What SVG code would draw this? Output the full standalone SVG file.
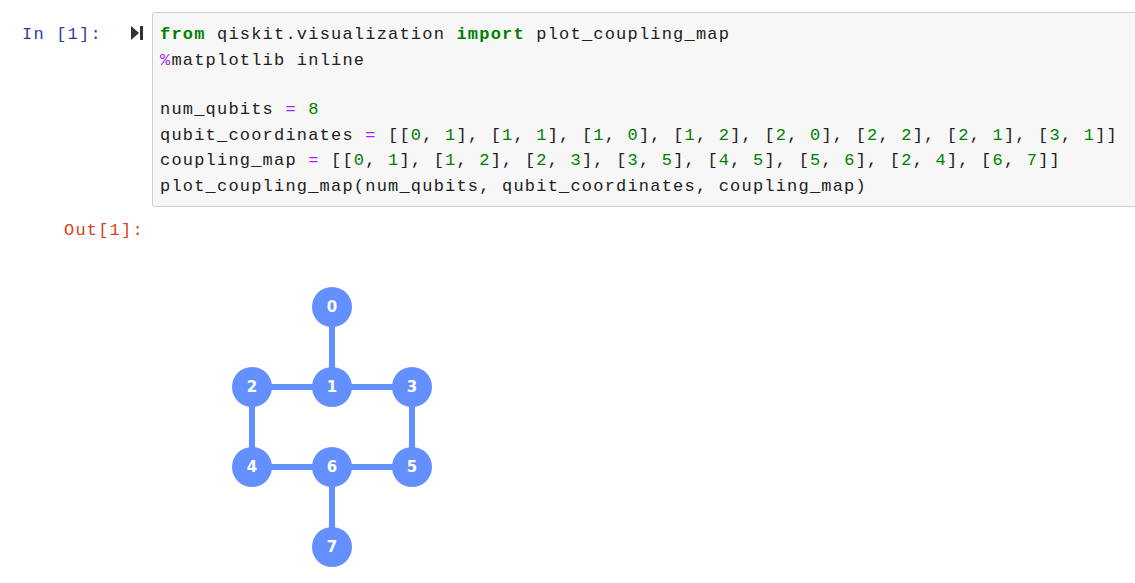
<svg xmlns="http://www.w3.org/2000/svg" width="1135" height="583" viewBox="0 0 1135 583">
<style>
.c{font-family:"Liberation Mono",monospace;font-size:17px;letter-spacing:1.2px;fill:#212121;white-space:pre}
.k{fill:#008000;font-weight:bold}.n{fill:#008000}.o{fill:#aa22ff}
.p{font-family:"Liberation Mono",monospace;font-size:17px;letter-spacing:1.2px}
.e{stroke:#648fff;stroke-width:6}
.q{fill:#648fff}
.l{font-family:"DejaVu Sans",sans-serif;font-weight:bold;font-size:15px;fill:#fff;text-anchor:middle}
</style>
<rect width="1135" height="583" fill="#fff"/>
<text class="p" x="22" y="39" fill="#303f9f">In [1]:</text>
<path d="M131 26v14l8-7z M140 26h3v14h-3z" fill="#333"/>
<rect x="152.5" y="12.5" width="990" height="194" rx="2" fill="#f7f7f7" stroke="#cfcfcf"/>
<text class="c" x="160" y="39"><tspan class="k">from</tspan> qiskit.visualization <tspan class="k">import</tspan> plot_coupling_map</text>
<text class="c" x="160" y="65"><tspan class="o">%</tspan>matplotlib inline</text>
<text class="c" x="160" y="114">num_qubits <tspan class="o">=</tspan> <tspan class="n">8</tspan></text>
<text class="c" x="160" y="140">qubit_coordinates <tspan class="o">=</tspan> [[<tspan class="n">0</tspan>, <tspan class="n">1</tspan>], [<tspan class="n">1</tspan>, <tspan class="n">1</tspan>], [<tspan class="n">1</tspan>, <tspan class="n">0</tspan>], [<tspan class="n">1</tspan>, <tspan class="n">2</tspan>], [<tspan class="n">2</tspan>, <tspan class="n">0</tspan>], [<tspan class="n">2</tspan>, <tspan class="n">2</tspan>], [<tspan class="n">2</tspan>, <tspan class="n">1</tspan>], [<tspan class="n">3</tspan>, <tspan class="n">1</tspan>]]</text>
<text class="c" x="160" y="165">coupling_map <tspan class="o">=</tspan> [[<tspan class="n">0</tspan>, <tspan class="n">1</tspan>], [<tspan class="n">1</tspan>, <tspan class="n">2</tspan>], [<tspan class="n">2</tspan>, <tspan class="n">3</tspan>], [<tspan class="n">3</tspan>, <tspan class="n">5</tspan>], [<tspan class="n">4</tspan>, <tspan class="n">5</tspan>], [<tspan class="n">5</tspan>, <tspan class="n">6</tspan>], [<tspan class="n">2</tspan>, <tspan class="n">4</tspan>], [<tspan class="n">6</tspan>, <tspan class="n">7</tspan>]]</text>
<text class="c" x="160" y="191">plot_coupling_map(num_qubits, qubit_coordinates, coupling_map)</text>
<text class="p" x="64" y="235" fill="#d84315">Out[1]:</text>
<g id="edges">
<line class="e" x1="332" y1="307" x2="332" y2="387"/>
<line class="e" x1="252" y1="387" x2="412" y2="387"/>
<line class="e" x1="252" y1="387" x2="252" y2="467"/>
<line class="e" x1="412" y1="387" x2="412" y2="467"/>
<line class="e" x1="252" y1="467" x2="412" y2="467"/>
<line class="e" x1="332" y1="467" x2="332" y2="547"/>
</g>
<g id="q0"><circle class="q" cx="332" cy="307" r="20"/><text class="l" x="332" y="312">0</text></g>
<g id="q1"><circle class="q" cx="332" cy="387" r="20"/><text class="l" x="332" y="392">1</text></g>
<g id="q2"><circle class="q" cx="252" cy="387" r="20"/><text class="l" x="252" y="392">2</text></g>
<g id="q3"><circle class="q" cx="412" cy="387" r="20"/><text class="l" x="412" y="392">3</text></g>
<g id="q4"><circle class="q" cx="252" cy="467" r="20"/><text class="l" x="252" y="472">4</text></g>
<g id="q5"><circle class="q" cx="412" cy="467" r="20"/><text class="l" x="412" y="472">5</text></g>
<g id="q6"><circle class="q" cx="332" cy="467" r="20"/><text class="l" x="332" y="472">6</text></g>
<g id="q7"><circle class="q" cx="332" cy="547" r="20"/><text class="l" x="332" y="552">7</text></g>
</svg>
